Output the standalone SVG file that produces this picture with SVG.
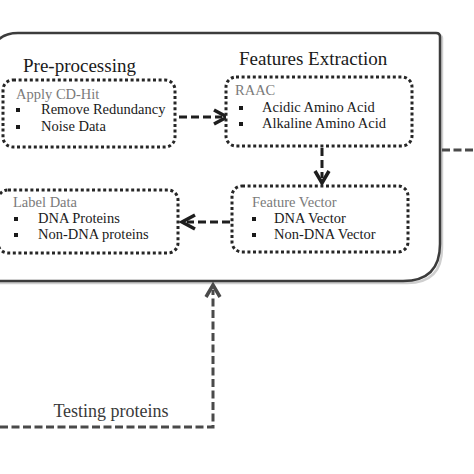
<svg xmlns="http://www.w3.org/2000/svg" width="474" height="474" viewBox="0 0 474 474">
<style>
text{font-family:"Liberation Serif","Times New Roman",serif}
.title{font-size:19px;fill:#1a1a1a}
.head{font-size:14.5px;fill:#7a7a7a}
.item{font-size:14.5px;fill:#1a1a1a}
.dot{fill:#ffffff;stroke:#262626;stroke-width:3;stroke-dasharray:3 2.6}
.bul{fill:#1a1a1a}
.dash{fill:none;stroke:#1e1e1e;stroke-width:3;stroke-dasharray:8 4}
.gdash{fill:none;stroke:#4a4a4a;stroke-width:3;stroke-dasharray:8 3.5}
.head-ar{fill:none;stroke:#1e1e1e;stroke-width:3.5;stroke-linejoin:miter}
</style>
<rect width="474" height="474" fill="#ffffff"/>
<g id="outer">
<path d="M -10 283 L -10 58 Q -5 35 20 35 L 437 35 Q 442 35 442 38 L 442 248 Q 442 283 407 283 Z" fill="none" stroke="#cfcfcf" stroke-width="2.5"/>
<path d="M -10 281 L -10 56 Q -5 33 18 33 L 436 33 Q 440 33 440 37 L 440 244 Q 440 281 403 281 Z" fill="#ffffff" stroke="#3c3c3c" stroke-width="2.5"/>
<text class="title" x="23" y="72">Pre-processing</text>
<text class="title" x="239" y="65">Features Extraction</text>
</g>
<g id="connectors">
<path class="dash" d="M 179 117 L 222 117"/>
<path class="head-ar" d="M 214 110 L 227 117 L 214 124"/>
<path class="dash" d="M 322 148 L 322 178"/>
<path class="head-ar" d="M 315 171 L 322 183 L 329 171"/>
<path class="dash" d="M 230 222 L 187 222"/>
<path class="head-ar" d="M 195 215 L 182 222 L 195 229"/>
<path class="gdash" d="M 442 150 L 474 150"/>
<path class="gdash" d="M 0 427 L 213 427 L 213 290"/>
<path class="head-ar" style="stroke:#4a4a4a" d="M 206 297 L 213 285 L 220 297"/>
<text x="111" y="417" text-anchor="middle" style="font-size:18px;fill:#3a3a3a">Testing proteins</text>
</g>
<g id="apply-cd-hit">
<rect class="dot" x="3" y="80" width="172" height="67" rx="10"/>
<text class="head" x="16" y="99">Apply CD-Hit</text>
<rect class="bul" x="16" y="108" width="4" height="4"/>
<text class="item" x="41" y="114">Remove Redundancy</text>
<rect class="bul" x="16" y="125" width="4" height="4"/>
<text class="item" x="41" y="131">Noise Data</text>
</g>
<g id="raac">
<rect class="dot" x="226" y="77" width="186" height="69" rx="10"/>
<text class="head" x="235" y="95">RAAC</text>
<rect class="bul" x="239" y="106" width="4" height="4"/>
<text class="item" x="262" y="112">Acidic Amino Acid</text>
<rect class="bul" x="239" y="122" width="4" height="4"/>
<text class="item" x="262" y="128">Alkaline Amino Acid</text>
</g>
<g id="feature-vector">
<rect class="dot" x="232" y="186" width="176" height="66" rx="10"/>
<text class="head" x="252" y="207">Feature Vector</text>
<rect class="bul" x="252" y="217" width="4" height="4"/>
<text class="item" x="274" y="223">DNA Vector</text>
<rect class="bul" x="252" y="233" width="4" height="4"/>
<text class="item" x="274" y="239">Non-DNA Vector</text>
</g>
<g id="label-data">
<rect class="dot" x="-2" y="190" width="180" height="63" rx="10"/>
<text class="head" x="13" y="207">Label Data</text>
<rect class="bul" x="14" y="217" width="4" height="4"/>
<text class="item" x="38" y="223">DNA Proteins</text>
<rect class="bul" x="14" y="233" width="4" height="4"/>
<text class="item" x="38" y="239">Non-DNA proteins</text>
</g>
</svg>
